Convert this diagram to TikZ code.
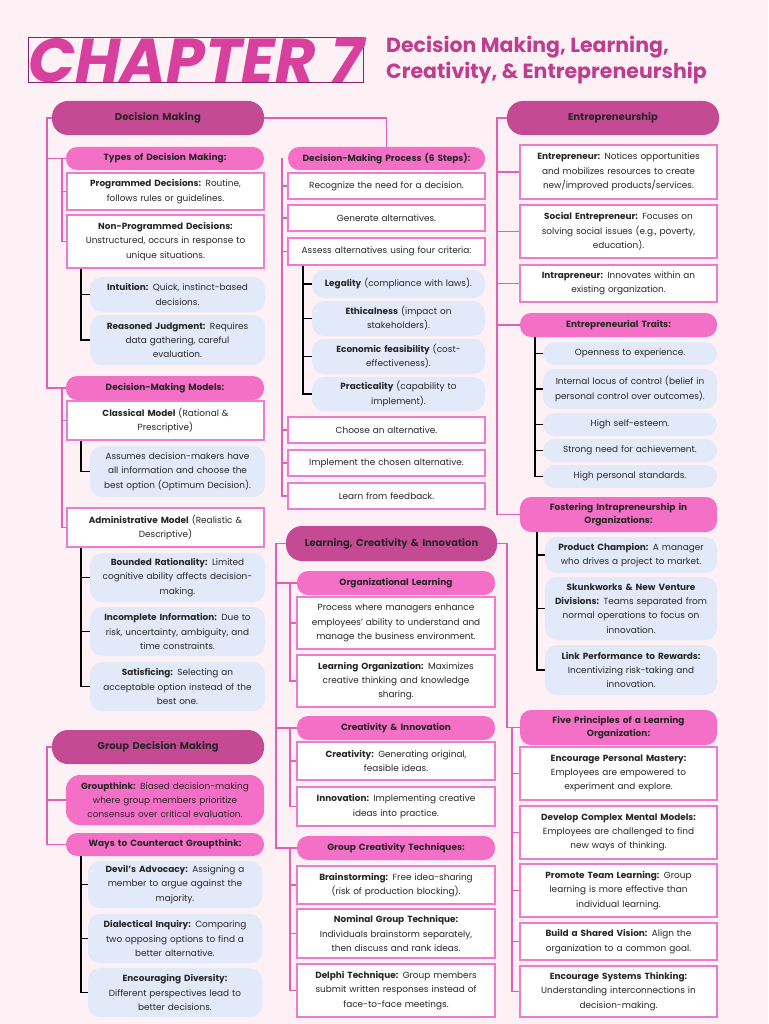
\documentclass[tikz,border=0pt]{standalone}
\usepackage{fontspec}
\setmainfont{Poppins}
\usetikzlibrary{calc}
\definecolor{bg}{HTML}{FDF1F6}
\definecolor{dk}{HTML}{C54A94}
\definecolor{lt}{HTML}{F470C6}
\definecolor{bd}{HTML}{F07ACB}
\definecolor{bl}{HTML}{E2E9F9}
\definecolor{ln}{HTML}{E060B4}
\definecolor{ttl}{HTML}{D8409E}
\definecolor{ttd}{HTML}{8E1F63}
\definecolor{sub}{HTML}{C03C8E}
\newcommand\bx[7]{\pgfmathsetmacro\tw{#5-#3-6}\node[#2, minimum width={(#5-#3)*1pt}, minimum height={(#6-#4)*1pt}, text width=\tw pt] (#1) at ({(#3+#5)/2},{(#4+#6)/2}) {#7};}
\tikzset{
 base/.style={inner sep=0pt, align=center, font=\fontsize{8.9}{14.3}\selectfont, text=black!85},
 dark/.style={base, fill=dk, rounded corners=16pt, font=\fontsize{10}{13}\selectfont\bfseries},
 light/.style={base, fill=lt, rounded corners=11pt, font=\fontsize{9}{13}\selectfont\bfseries},
 wbox/.style={base, draw=bd, line width=1.6pt, fill=white},
 blue/.style={base, fill=bl, rounded corners=12pt},
 pinkbox/.style={base, fill=lt, rounded corners=14pt},
 pk/.style={draw=ln, line width=1.6pt},
 bk/.style={draw=black, line width=1.6pt}
}
\begin{document}
\begin{tikzpicture}[x=1pt,y=-1pt]
\fill[bg] (0,0) rectangle (768,1024);
\useasboundingbox (0,0) rectangle (768,1024);
% title
\node[anchor=west, text=ttl, draw=ttd, line width=0.8pt, font=\fontsize{62}{62}\selectfont\bfseries\itshape, inner sep=0pt] (title) at (28,60) {CHAPTER 7};
\node[anchor=west, text=sub, align=left, font=\fontsize{20.5}{26}\selectfont\bfseries, inner sep=0pt] (subt) at (386,60) {Decision Making, Learning,\\Creativity, \& Entrepreneurship};
% ---------- left column
\bx{dm}{dark}{52}{101}{264}{135}{Decision Making}
\bx{types}{light}{66}{147}{264}{170}{Types of Decision Making:}
\bx{prog}{wbox}{67}{173}{264}{210}{\textbf{Programmed Decisions:} Routine,\\follows rules or guidelines.}
\bx{np}{wbox}{67}{215}{264}{268}{\textbf{Non-Programmed Decisions:}\\Unstructured, occurs in response to\\unique situations.}
\bx{intu}{blue}{90}{277}{265}{312}{\textbf{Intuition:} Quick, instinct-based\\decisions.}
\bx{rj}{blue}{90}{315}{265}{365}{\textbf{Reasoned Judgment:} Requires\\data gathering, careful\\evaluation.}
\bx{models}{light}{66}{376}{264}{400}{Decision-Making Models:}
\bx{cm}{wbox}{67}{401}{264}{440}{\textbf{Classical Model} (Rational \&\\Prescriptive)}
\bx{assm}{blue}{90}{446}{265}{497}{Assumes decision-makers have\\all information and choose the\\best option (Optimum Decision).}
\bx{am}{wbox}{67}{508}{264}{547}{\textbf{Administrative Model} (Realistic \&\\Descriptive)}
\bx{br}{blue}{90}{553}{265}{602}{\textbf{Bounded Rationality:} Limited\\cognitive ability affects decision-\\making.}
\bx{ii}{blue}{90}{607}{265}{656}{\textbf{Incomplete Information:} Due to\\risk, uncertainty, ambiguity, and\\time constraints.}
\bx{sat}{blue}{90}{662}{265}{711}{\textbf{Satisficing:} Selecting an\\acceptable option instead of the\\best one.}
\bx{gdm}{dark}{52}{730}{264}{764}{Group Decision Making}
\bx{gt}{pinkbox}{66}{775}{264}{825}{\textbf{Groupthink:} Biased decision-making\\where group members prioritize\\consensus over critical evaluation.}
\bx{ways}{light}{66}{833}{264}{856}{Ways to Counteract Groupthink:}
\bx{da}{blue}{88}{861}{262}{908}{\textbf{Devil's Advocacy:} Assigning a\\member to argue against the\\majority.}
\bx{di}{blue}{88}{914}{262}{963}{\textbf{Dialectical Inquiry:} Comparing\\two opposing options to find a\\better alternative.}
\bx{ed}{blue}{88}{968}{262}{1017}{\textbf{Encouraging Diversity:}\\Different perspectives lead to\\better decisions.}
% ---------- middle column
\bx{proc}{light}{288}{147}{485}{170}{Decision-Making Process (6 Steps):}
\bx{s1}{wbox}{288}{173}{485}{199}{Recognize the need for a decision.}
\bx{s2}{wbox}{288}{205}{485}{231}{Generate alternatives.}
\bx{s3}{wbox}{288}{238}{485}{265}{Assess alternatives using four criteria:}
\bx{c1}{blue}{312}{270}{485}{298}{\textbf{Legality} (compliance with laws).}
\bx{c2}{blue}{312}{301}{485}{336}{\textbf{Ethicalness} (impact on\\stakeholders).}
\bx{c3}{blue}{312}{339}{485}{374}{\textbf{Economic feasibility} (cost-\\effectiveness).}
\bx{c4}{blue}{312}{377}{485}{411}{\textbf{Practicality} (capability to\\implement).}
\bx{s4}{wbox}{288}{417}{485}{443}{Choose an alternative.}
\bx{s5}{wbox}{288}{450}{485}{476}{Implement the chosen alternative.}
\bx{s6}{wbox}{288}{483}{485}{509}{Learn from feedback.}
\bx{lci}{dark}{286}{526}{497}{561}{Learning, Creativity \& Innovation}
\bx{ol}{light}{297}{571}{495}{595}{Organizational Learning}
\bx{pw}{wbox}{297}{597}{495}{649}{Process where managers enhance\\employees' ability to understand and\\manage the business environment.}
\bx{lo}{wbox}{297}{655}{495}{707}{\textbf{Learning Organization:} Maximizes\\creative thinking and knowledge\\sharing.}
\bx{ci}{light}{297}{716}{495}{740}{Creativity \& Innovation}
\bx{cr}{wbox}{297}{742}{495}{780}{\textbf{Creativity:} Generating original,\\feasible ideas.}
\bx{inn}{wbox}{297}{787}{495}{826}{\textbf{Innovation:} Implementing creative\\ideas into practice.}
\bx{gct}{light}{297}{836}{495}{860}{Group Creativity Techniques:}
\bx{bs}{wbox}{297}{866}{495}{904}{\textbf{Brainstorming:} Free idea-sharing\\(risk of production blocking).}
\bx{ngt}{wbox}{297}{909}{495}{958}{\textbf{Nominal Group Technique:}\\Individuals brainstorm separately,\\then discuss and rank ideas.}
\bx{dt}{wbox}{297}{964}{495}{1017}{\textbf{Delphi Technique:} Group members\\submit written responses instead of\\face-to-face meetings.}
% ---------- right column
\bx{ent}{dark}{507}{101}{719}{135}{Entrepreneurship}
\bx{e1}{wbox}{520}{145}{717}{199}{\textbf{Entrepreneur:} Notices opportunities\\and mobilizes resources to create\\new/improved products/services.}
\bx{e2}{wbox}{520}{205}{717}{258}{\textbf{Social Entrepreneur:} Focuses on\\solving social issues (e.g., poverty,\\education).}
\bx{e3}{wbox}{520}{265}{717}{302}{\textbf{Intrapreneur:} Innovates within an\\existing organization.}
\bx{et}{light}{520}{313}{717}{337}{Entrepreneurial Traits:}
\bx{t1}{blue}{543}{342}{717}{365}{Openness to experience.}
\bx{t2}{blue}{543}{369}{717}{409}{Internal locus of control (belief in\\personal control over outcomes).}
\bx{t3}{blue}{543}{413}{717}{436}{High self-esteem.}
\bx{t4}{blue}{543}{439}{717}{462}{Strong need for achievement.}
\bx{t5}{blue}{543}{465}{717}{488}{High personal standards.}
\bx{fi}{light}{520}{497}{717}{532}{Fostering Intrapreneurship in\\Organizations:}
\bx{f1}{blue}{545}{537}{717}{573}{\textbf{Product Champion:} A manager\\who drives a project to market.}
\bx{f2}{blue}{545}{577}{717}{640}{\textbf{Skunkworks \& New Venture}\\\textbf{Divisions:} Teams separated from\\normal operations to focus on\\innovation.}
\bx{f3}{blue}{545}{645}{717}{695}{\textbf{Link Performance to Rewards:}\\Incentivizing risk-taking and\\innovation.}
\bx{fp}{light}{520}{710}{717}{745}{Five Principles of a Learning\\Organization:}
\bx{p1}{wbox}{520}{747}{717}{800}{\textbf{Encourage Personal Mastery:}\\Employees are empowered to\\experiment and explore.}
\bx{p2}{wbox}{520}{806}{717}{859}{\textbf{Develop Complex Mental Models:}\\Employees are challenged to find\\new ways of thinking.}
\bx{p3}{wbox}{520}{864}{717}{917}{\textbf{Promote Team Learning:} Group\\learning is more effective than\\individual learning.}
\bx{p4}{wbox}{520}{923}{717}{960}{\textbf{Build a Shared Vision:} Align the\\organization to a common goal.}
\bx{p5}{wbox}{520}{966}{717}{1017}{\textbf{Encourage Systems Thinking:}\\Understanding interconnections in\\decision-making.}
% ---------- connectors
\draw[pk] (dm.west) -- ++(-5,0) |- (types.west);
\draw[pk] (dm.west) -- ++(-5,0) |- (models.west);
\draw[pk] (dm.east) -| (proc.north);
\draw[pk] ($(types.west)+(-4,0)$) |- (prog.west);
\draw[pk] ($(types.west)+(-4,0)$) |- (np.west);
\draw[pk] ($(models.west)+(-4,0)$) |- (cm.west);
\draw[pk] ($(models.west)+(-4,0)$) |- (am.west);
\draw[bk] ($(intu.west|-np.south)+(-9,0)$) |- (intu.west);
\draw[bk] ($(intu.west|-np.south)+(-9,0)$) |- (rj.west);
\draw[bk] ($(assm.west|-cm.south)+(-9,0)$) |- (assm.west);
\foreach \n in {br,ii,sat} \draw[bk] ($(br.west|-am.south)+(-9,0)$) |- (\n.west);
\draw[pk] (gdm.west) -- ++(-5,0) |- (gt.west);
\draw[pk] (gdm.west) -- ++(-5,0) |- (ways.west);
\foreach \n in {da,di,ed} \draw[bk] ($(da.west|-ways.south)+(-7,0)$) |- (\n.west);
\foreach \n in {s1,s2,s3,s4,s5,s6} \draw[pk] ($(proc.west)+(-6,0)$) |- (\n.west);
\foreach \n in {c1,c2,c3,c4} \draw[bk] ($(c1.west|-s3.south)+(-9,0)$) |- (\n.west);
\foreach \n in {ol,ci,gct} \draw[pk] (lci.west) -- ++(-10,0) |- (\n.west);
\foreach \n in {pw,lo} \draw[pk] ($(ol.west)+(-7,0)$) |- (\n.west);
\foreach \n in {cr,inn} \draw[pk] ($(ci.west)+(-7,0)$) |- (\n.west);
\foreach \n in {bs,ngt,dt} \draw[pk] ($(gct.west)+(-7,0)$) |- (\n.west);
\draw[pk] (lci.east) -- ++(10,0) |- (fp.west);
\foreach \n in {p1,p2,p3,p4,p5} \draw[pk] ($(fp.west)+(-8,0)$) |- (\n.west);
\foreach \n in {e1,e2,e3,et,fi} \draw[pk] (ent.west) -- ++(-10,0) |- (\n.west);
\foreach \n in {t1,t2,t3,t4,t5} \draw[bk] ($(t1.west|-et.south)+(-8,0)$) |- (\n.west);
\foreach \n in {f1,f2,f3} \draw[bk] ($(f1.west|-fi.south)+(-8,0)$) |- (\n.west);
\end{tikzpicture}
\end{document}
